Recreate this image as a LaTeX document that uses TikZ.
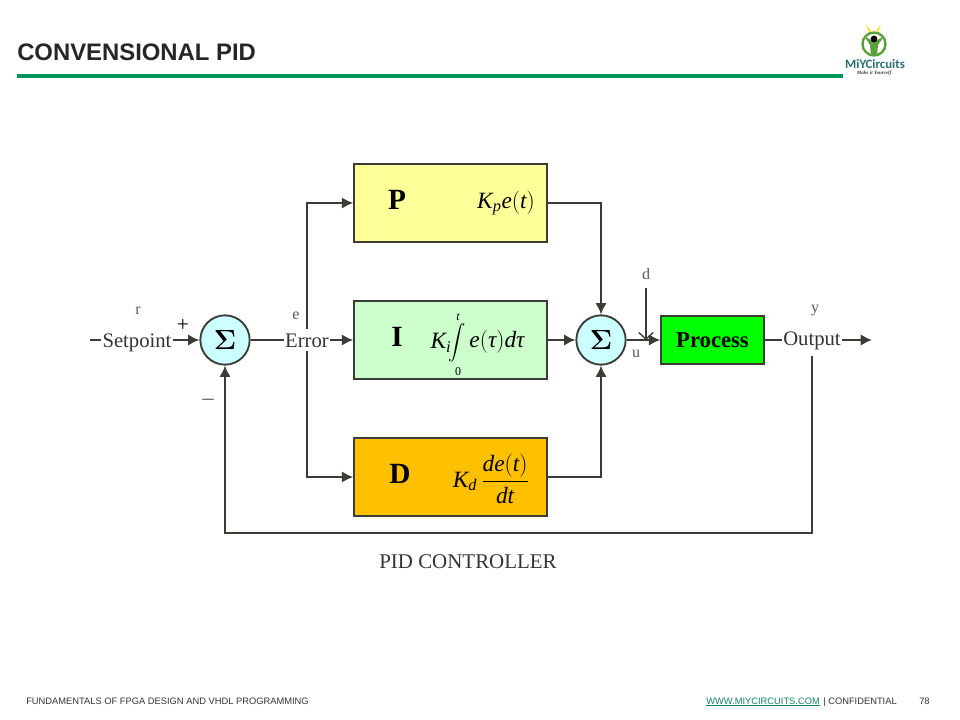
\documentclass[tikz,border=0pt]{standalone}
\usepackage{fontspec}
\usepackage{amsmath,amssymb}
\setmainfont{Liberation Serif}
\newfontfamily\slidefont{Liberation Sans}
\newfontfamily\logofont{Carlito}
\usetikzlibrary{arrows.meta}
\definecolor{rulegreen}{RGB}{0,150,90}
\definecolor{logogreen}{RGB}{92,160,60}
\definecolor{logoteal}{RGB}{40,110,110}
\definecolor{linkgreen}{RGB}{20,130,100}
\definecolor{edgegray}{RGB}{60,60,55}
\definecolor{pyellow}{RGB}{255,255,153}
\definecolor{igreen}{RGB}{204,255,204}
\definecolor{dorange}{RGB}{255,192,0}
\definecolor{sumcyan}{RGB}{204,255,255}
\newcommand{\pxfont}[1]{\fontsize{#1}{#1}\selectfont}
\newcommand{\lpar}{\mathopen{\mathrm{(}}}
\newcommand{\rpar}{\mathclose{\mathrm{)}}}
\tikzset{
    blockbox/.style={draw=edgegray, line width=1.5pt, minimum width=144.5pt, minimum height=58.5pt, inner sep=0pt},
    sumnode/.style={circle, draw=edgegray, fill=sumcyan, line width=1.4pt, minimum size=37pt, inner sep=0pt, font=\pxfont{21}\bfseries},
    sigline/.style={draw=edgegray, line width=1.3pt},
    sigarrow/.style={sigline, -{Latex[length=8.5pt,width=8.5pt]}},
    sigtext/.style={text=black!80, inner sep=1pt, text height=13pt, text depth=1.5pt, font=\pxfont{15.5}},
    smalltext/.style={text=black!65, inner sep=0pt, font=\pxfont{12}},
    blocktitle/.style={inner sep=0pt, font=\pxfont{22}\bfseries},
    blockmath/.style={inner sep=0pt, font=\pxfont{17.5}},
    limittext/.style={inner sep=0pt, font=\pxfont{9}},
    footertext/.style={inner sep=0pt, anchor=base west, font=\slidefont\pxfont{7}}
}
\begin{document}
\begin{tikzpicture}[x=0.75pt, y=-0.75pt]
    \useasboundingbox (0,0) rectangle (960,720);

    % Slide title and rule
    \node[inner sep=0pt, anchor=base west, text=black!85, font=\slidefont\bfseries\pxfont{17.9}] (title) at (17,61) {CONVENSIONAL PID};
    \fill[rulegreen] (17,74) rectangle (843,78);

    % Blocks
    \node[blockbox, fill=pyellow] (pblock) at (450.5,203) {};
    \node[blockbox, fill=igreen] (iblock) at (450.5,340) {};
    \node[blockbox, fill=dorange] (dblock) at (450.5,477) {};
    \node[sumnode] (sumin) at (225,340) {$\boldsymbol{\Sigma}$};
    \node[sumnode] (sumout) at (601,340) {$\boldsymbol{\Sigma}$};
    \node[draw=edgegray, fill=green, line width=1.4pt, minimum width=77pt, minimum height=36pt, inner sep=0pt, font=\pxfont{17}\bfseries] (process) at (712.5,340) {Process};

    % Block contents
    \node[blocktitle] (ptitle) at (397,200) {P};
    \node[blocktitle] (ititle) at (397,337) {I};
    \node[blocktitle] (dtitle) at (400,474) {D};
    \node[blockmath] (pgain) at (506,203) {$\mathit{K}_{\mathit{p}}\mathit{e}\lpar\mathit{t}\rpar$};
    \node[blockmath] (igain) at (441,343) {$\mathit{K}_{\mathit{i}}$};
    \node[inner sep=0pt, font=\pxfont{13}] (intsign) at (457,343) {$\displaystyle\int$};
    \node[limittext] (itop) at (458,317) {$\mathit{t}$};
    \node[limittext] (ibot) at (458,372) {0};
    \node[blockmath] (ibody) at (497,342) {$\mathit{e}\lpar\textit{τ}\rpar\mathit{d}\textit{τ}$};
    \node[blockmath] (dgain) at (491,479) {$\mathit{K}_{\mathit{d}}\,\dfrac{\mathit{de}\lpar\mathit{t}\rpar}{\mathit{dt}}$};

    % Signal names
    \node[sigtext] (setpoint) at (137,340) {Setpoint};
    \node[sigtext] (error) at (307,340) {Error};
    \node[sigtext] (output) at (812,338) {Output};
    \node[sigtext, font=\pxfont{15.7}] (ctrl) at (468,561) {PID CONTROLLER};
    \node[smalltext] (rlabel) at (138,311) {r};
    \node[smalltext] (elabel) at (296,316) {e};
    \node[smalltext] (dlabel) at (646,274) {d};
    \node[smalltext] (ulabel) at (636,354) {u};
    \node[smalltext] (ylabel) at (815,311) {y};
    \node[inner sep=0pt, font=\pxfont{16}] (plus) at (183,325) {+};
    \node[inner sep=0pt, font=\pxfont{15}] (minus) at (208,400) {$-$};

    % Free ends
    \coordinate (inend) at (90,340);
    \coordinate (outend) at (872,340);
    \coordinate (dtop) at (646,288);
    \coordinate (dend) at (646,340);
    \coordinate (fbcorner) at (811,533);

    % Forward path
    \draw[sigline] (inend) -- (setpoint.west);
    \draw[sigarrow] (setpoint.east) -- (sumin.west);
    \draw[sigline] (sumin.east) -- (error.west);
    \draw[sigarrow] (error.east) -- (iblock.west);
    \draw[sigarrow] (error.north) |- (pblock.west);
    \draw[sigarrow] (error.south) |- (dblock.west);
    \draw[sigarrow] (pblock.east) -| (sumout.north);
    \draw[sigarrow] (iblock.east) -- (sumout.west);
    \draw[sigarrow] (dblock.east) -| (sumout.south);
    \draw[sigarrow] (sumout.east) -- (process.west);
    \draw[sigline] (process.east) -- (process.east -| output.west);
    \draw[sigarrow] (output.east |- outend) -- (outend);

    % Disturbance and feedback
    \draw[sigline, line width=1pt, -{Straight Barb[length=5pt,width=11pt]}] (dtop) -- (dend);
    \draw[sigarrow, shorten <=5pt] (output.south) |- (fbcorner) -| (sumin.south);

    % Logo
    \fill[yellow!80!orange] (866,25) -- (869,32) -- (871,31) -- cycle;
    \fill[yellow!80!orange] (881,25) -- (878,32) -- (876,31) -- cycle;
    \draw[logogreen, line width=1.8pt] (874,44) circle (11.5);
    \fill[logogreen] (864,36) -- (870,45) -- (871,56) -- (877,56) -- (878,45) -- (884,36) -- (874,42) -- cycle;
    \fill[black] (874,39) circle (3.4);
    \node[inner sep=0pt, text=logoteal, font=\logofont\bfseries\pxfont{9.6}] (logoname) at (875,64) {MiYCircuits};
    \node[inner sep=0pt, text=black!75, font=\itshape\bfseries\pxfont{3.8}] (logotag) at (874,73) {Make it Yourself};

    % Footer
    \node[footertext, text=black!80] (course) at (26,704) {FUNDAMENTALS OF FPGA DESIGN AND VHDL PROGRAMMING};
    \node[footertext, text=linkgreen] (site) at (706,704) {\underline{WWW.MIYCIRCUITS.COM}};
    \node[footertext, text=black!80] (conf) at (823,704) {| CONFIDENTIAL};
    \node[footertext, text=black!80] (pagenum) at (919,704) {78};
\end{tikzpicture}
\end{document}
